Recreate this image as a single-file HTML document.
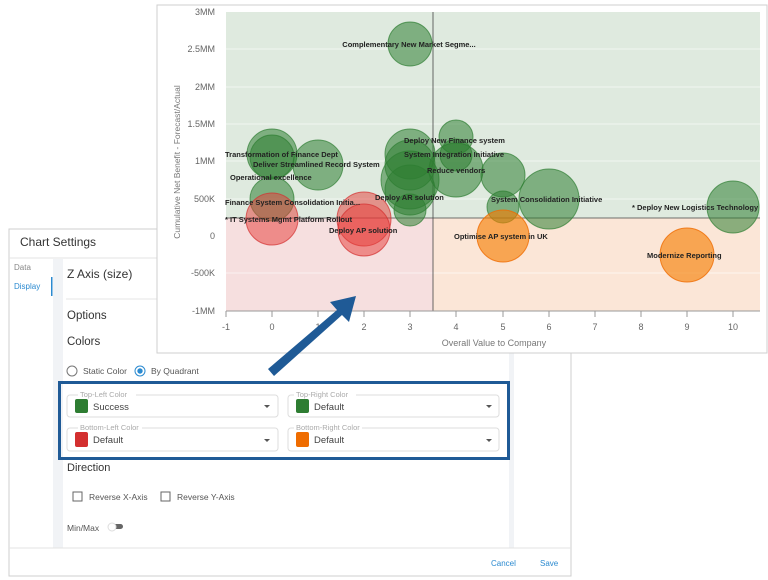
<!DOCTYPE html>
<html><head><meta charset="utf-8"><style>
html,body{margin:0;padding:0;background:#fff;width:768px;height:580px;overflow:hidden}
svg{display:block;font-family:"Liberation Sans",sans-serif}
.lb{font-size:7.5px;font-weight:bold;fill:#222}
.tk{font-size:9px;fill:#666}
.st{font-size:8.5px;fill:#555}
</style></head><body>
<svg width="768" height="580" viewBox="0 0 768 580">
<!-- Settings panel -->
<rect x="9" y="229" width="562" height="347" fill="#fff" stroke="#cfcfcf"/>
<text x="20" y="246" font-size="12" fill="#333">Chart Settings</text>
<line x1="9" y1="258" x2="571" y2="258" stroke="#e3e3e3"/>
<rect x="53" y="259" width="10" height="289" fill="#f1f3f6"/>
<rect x="509" y="259" width="5" height="289" fill="#f1f3f6"/>
<line x1="9" y1="548" x2="571" y2="548" stroke="#e3e3e3"/>
<text x="14" y="270" font-size="8" fill="#888">Data</text>
<text x="14" y="289" font-size="8" fill="#2b8ad0">Display</text>
<rect x="51" y="277" width="1.5" height="19" fill="#2b8ad0"/>
<text x="67" y="278" font-size="12" fill="#333">Z Axis (size)</text>
<line x1="66" y1="299" x2="509" y2="299" stroke="#e6e6e6"/>
<text x="67" y="319" font-size="11.5" fill="#333">Options</text>
<text x="67" y="345" font-size="11.5" fill="#333">Colors</text>
<circle cx="72" cy="371" r="5" fill="#fff" stroke="#777"/>
<text x="83" y="374" class="st">Static Color</text>
<circle cx="140" cy="371" r="5" fill="#fff" stroke="#2b8ad0"/>
<circle cx="140" cy="371" r="2.7" fill="#2b8ad0"/>
<text x="151" y="374" class="st">By Quadrant</text>
<!-- dropdowns -->
<g font-size="9.5" fill="#444">
<rect x="67" y="395" width="211" height="22" rx="3" fill="#fff" stroke="#ddd"/>
<rect x="78" y="390" width="58" height="8" fill="#fff"/><text x="80" y="397" font-size="7.5" fill="#aaa">Top-Left Color</text>
<rect x="75" y="399" width="13" height="14" rx="2" fill="#2e7d32"/><text x="93" y="410">Success</text>
<path d="M264 405 l6 0 l-3 3z" fill="#555"/>
<rect x="288" y="395" width="211" height="22" rx="3" fill="#fff" stroke="#ddd"/>
<rect x="294" y="390" width="62" height="8" fill="#fff"/><text x="296" y="397" font-size="7.5" fill="#aaa">Top-Right Color</text>
<rect x="296" y="399" width="13" height="14" rx="2" fill="#2e7d32"/><text x="314" y="410">Default</text>
<path d="M486 405 l6 0 l-3 3z" fill="#555"/>
<rect x="67" y="428" width="211" height="23" rx="3" fill="#fff" stroke="#ddd"/>
<rect x="78" y="423" width="64" height="8" fill="#fff"/><text x="80" y="430" font-size="7.5" fill="#aaa">Bottom-Left Color</text>
<rect x="75" y="432" width="13" height="15" rx="2" fill="#d32f2f"/><text x="93" y="443">Default</text>
<path d="M264 439 l6 0 l-3 3z" fill="#555"/>
<rect x="288" y="428" width="211" height="23" rx="3" fill="#fff" stroke="#ddd"/>
<rect x="294" y="423" width="68" height="8" fill="#fff"/><text x="296" y="430" font-size="7.5" fill="#aaa">Bottom-Right Color</text>
<rect x="296" y="432" width="13" height="15" rx="2" fill="#ef6c00"/><text x="314" y="443">Default</text>
<path d="M486 439 l6 0 l-3 3z" fill="#555"/>
</g>
<rect x="59.5" y="382.5" width="449" height="76" fill="none" stroke="#1f5a96" stroke-width="3"/>
<text x="67" y="471" font-size="11" fill="#333">Direction</text>
<rect x="73" y="492" width="9" height="9" fill="#fff" stroke="#666"/>
<text x="89" y="500" class="st">Reverse X-Axis</text>
<rect x="161" y="492" width="9" height="9" fill="#fff" stroke="#666"/>
<text x="177" y="500" class="st">Reverse Y-Axis</text>
<text x="67" y="531" class="st">Min/Max</text>
<rect x="110" y="524" width="13" height="5" rx="2.5" fill="#666"/>
<circle cx="112" cy="527" r="4" fill="#fff" stroke="#ddd"/>
<text x="491" y="566" font-size="8" fill="#2b8ad0">Cancel</text>
<text x="540" y="566" font-size="8" fill="#2b8ad0">Save</text>

<!-- Chart panel -->
<rect x="157" y="5" width="610" height="348" fill="#fff" stroke="#cfcfcf"/>
<rect x="226" y="12" width="207" height="206" fill="#dfeadf"/>
<rect x="433" y="12" width="327" height="206" fill="#dfeadf"/>
<rect x="226" y="218" width="207" height="93" fill="#f6dfdf"/>
<rect x="433" y="218" width="327" height="93" fill="#fbe6d7"/>
<g stroke="#fff" stroke-opacity="0.6">
<line x1="226" y1="49" x2="760" y2="49"/><line x1="226" y1="87" x2="760" y2="87"/>
<line x1="226" y1="124" x2="760" y2="124"/><line x1="226" y1="161" x2="760" y2="161"/>
<line x1="226" y1="199" x2="760" y2="199"/><line x1="226" y1="273" x2="760" y2="273"/>
</g>
<line x1="433" y1="12" x2="433" y2="311" stroke="#444" stroke-width="0.8"/>
<line x1="226" y1="218" x2="760" y2="218" stroke="#444" stroke-width="0.8"/>
<g class="tk" text-anchor="end">
<text x="215" y="15">3MM</text><text x="215" y="52">2.5MM</text><text x="215" y="90">2MM</text>
<text x="215" y="127">1.5MM</text><text x="215" y="164">1MM</text><text x="215" y="202">500K</text>
<text x="215" y="239">0</text><text x="215" y="276">-500K</text><text x="215" y="314">-1MM</text>
</g>
<line x1="226" y1="311" x2="760" y2="311" stroke="#999"/>
<g stroke="#999">
<line x1="226" y1="311" x2="226" y2="317"/><line x1="272" y1="311" x2="272" y2="317"/><line x1="318" y1="311" x2="318" y2="317"/>
<line x1="364" y1="311" x2="364" y2="317"/><line x1="410" y1="311" x2="410" y2="317"/><line x1="456" y1="311" x2="456" y2="317"/>
<line x1="503" y1="311" x2="503" y2="317"/><line x1="549" y1="311" x2="549" y2="317"/><line x1="595" y1="311" x2="595" y2="317"/>
<line x1="641" y1="311" x2="641" y2="317"/><line x1="687" y1="311" x2="687" y2="317"/><line x1="733" y1="311" x2="733" y2="317"/>
</g>
<g class="tk" text-anchor="middle">
<text x="226" y="330">-1</text><text x="272" y="330">0</text><text x="318" y="330">1</text><text x="364" y="330">2</text>
<text x="410" y="330">3</text><text x="456" y="330">4</text><text x="503" y="330">5</text><text x="549" y="330">6</text>
<text x="595" y="330">7</text><text x="641" y="330">8</text><text x="687" y="330">9</text><text x="733" y="330">10</text>
</g>
<text x="494" y="346" text-anchor="middle" font-size="9" fill="#777">Overall Value to Company</text>
<text transform="translate(180,162) rotate(-90)" text-anchor="middle" font-size="8.5" fill="#777">Cumulative Net Benefit - Forecast/Actual</text>
<!-- bubbles -->
<g fill="#2e7d32" fill-opacity="0.55" stroke="#2e7d32" stroke-opacity="0.7">
<circle cx="410" cy="44" r="22"/>
<circle cx="272" cy="154" r="25"/><circle cx="272" cy="157" r="22"/>
<circle cx="318" cy="165" r="25"/>
<circle cx="410" cy="154" r="25"/><circle cx="410" cy="165" r="25"/><circle cx="410" cy="180" r="29"/>
<circle cx="410" cy="190" r="25"/><circle cx="410" cy="210" r="16"/>
<circle cx="456" cy="137" r="17"/><circle cx="456" cy="155" r="16"/><circle cx="456" cy="170" r="27"/>
<circle cx="503" cy="175" r="22"/><circle cx="503" cy="207" r="16"/>
<circle cx="549" cy="199" r="30"/>
<circle cx="733" cy="207" r="26"/>
<circle cx="272" cy="199" r="22"/>
</g>
<g fill="#e53935" fill-opacity="0.5" stroke="#d32f2f" stroke-opacity="0.7">
<circle cx="272" cy="219" r="26"/><circle cx="364" cy="219" r="27"/><circle cx="364" cy="230" r="26"/>
</g>
<g fill="#f57c00" fill-opacity="0.62" stroke="#ef6c00" stroke-opacity="0.8">
<circle cx="503" cy="236" r="26"/><circle cx="687" cy="255" r="27"/>
</g>
<g class="lb">
<text x="409" y="47" text-anchor="middle">Complementary New Market Segme...</text>
<text x="404" y="143">Deploy New Finance system</text>
<text x="225" y="157">Transformation of Finance Dept</text>
<text x="404" y="157">System Integration Initiative</text>
<text x="253" y="167">Deliver Streamlined Record System</text>
<text x="427" y="173">Reduce vendors</text>
<text x="230" y="180">Operational excellence</text>
<text x="375" y="200">Deploy AR solution</text>
<text x="225" y="205">Finance System Consolidation Initia...</text>
<text x="491" y="202">System Consolidation Initiative</text>
<text x="632" y="210">* Deploy New Logistics Technology</text>
<text x="225" y="222">* IT Systems Mgmt Platform Rollout</text>
<text x="329" y="233">Deploy AP solution</text>
<text x="454" y="239">Optimise AP system in UK</text>
<text x="647" y="258">Modernize Reporting</text>
</g>
<!-- arrow -->
<path d="M268 369 L337 310 L330 302 L356 296 L349 322 L342 315 L274 376 Z" fill="#1f5a96"/>
</svg>
</body></html>
